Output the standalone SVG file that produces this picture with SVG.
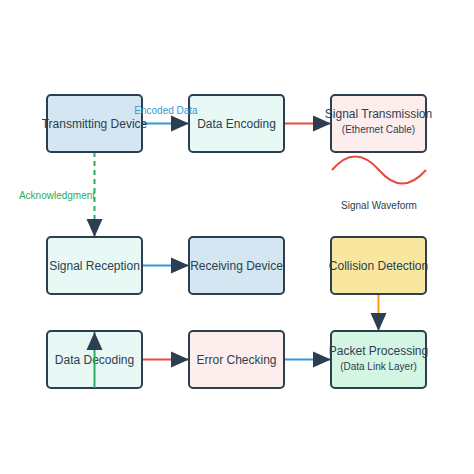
<svg xmlns="http://www.w3.org/2000/svg" width="474" height="474" viewBox="0 0 474 474">
<style>
.box{stroke:#2c3e50;stroke-width:2}
.t{font-family:"Liberation Sans",Arial,sans-serif;font-size:12px;fill:#2c3e50;text-anchor:middle;dominant-baseline:central}
.s{font-family:"Liberation Sans",Arial,sans-serif;font-size:10px;fill:#2c3e50;text-anchor:middle;dominant-baseline:central}
.lbl{font-family:"Liberation Sans",Arial,sans-serif;font-size:10px;text-anchor:middle;dominant-baseline:central}
.c{fill:none;stroke-width:2}
</style>
<defs>
<marker id="ah" markerUnits="userSpaceOnUse" markerWidth="18" markerHeight="18" viewBox="0 0 18 18" refX="18" refY="9" orient="auto">
<path d="M0,1 L18,9 L0,17 Z" fill="#2c3e50"/>
</marker>
</defs>
<rect width="474" height="474" fill="#ffffff"/>
<g id="connectors">
<line class="c" x1="142" y1="123.5" x2="189" y2="123.5" stroke="#3498db" marker-end="url(#ah)"/>
<line class="c" x1="284" y1="123.5" x2="331" y2="123.5" stroke="#e74c3c" marker-end="url(#ah)"/>
<line class="c" x1="94.5" y1="152" x2="94.5" y2="237" stroke="#27ae60" stroke-dasharray="5,4" marker-end="url(#ah)"/>
<line class="c" x1="142" y1="265.5" x2="189" y2="265.5" stroke="#3498db" marker-end="url(#ah)"/>
<line class="c" x1="378.5" y1="294" x2="378.5" y2="331" stroke="#f39c12" marker-end="url(#ah)"/>
<line class="c" x1="142" y1="359.5" x2="189" y2="359.5" stroke="#e74c3c" marker-end="url(#ah)"/>
<line class="c" x1="284" y1="359.5" x2="331" y2="359.5" stroke="#3498db" marker-end="url(#ah)"/>
</g>
<g id="transmitting-device"><rect class="box" x="47" y="95" width="95" height="57" rx="4" fill="#d4e6f1"/><text class="t" x="94.5" y="124">Transmitting Device</text></g>
<g id="data-encoding"><rect class="box" x="189" y="95" width="95" height="57" rx="4" fill="#e8f8f5"/><text class="t" x="236.5" y="124">Data Encoding</text></g>
<g id="signal-transmission"><rect class="box" x="331" y="95" width="95" height="57" rx="4" fill="#fdedec"/><text class="t" x="378.5" y="114">Signal Transmission</text><text class="s" x="378.5" y="129">(Ethernet Cable)</text></g>
<g id="signal-waveform"><path d="M332,170 Q355,143 379,170 Q402,197 426,170" fill="none" stroke="#e74c3c" stroke-width="2"/><text class="lbl" x="379" y="205" fill="#2c3e50">Signal Waveform</text></g>
<g id="signal-reception"><rect class="box" x="47" y="237" width="95" height="57" rx="4" fill="#e8f8f5"/><text class="t" x="94.5" y="266">Signal Reception</text></g>
<g id="receiving-device"><rect class="box" x="189" y="237" width="95" height="57" rx="4" fill="#d4e6f1"/><text class="t" x="236.5" y="266">Receiving Device</text></g>
<g id="collision-detection"><rect class="box" x="331" y="237" width="95" height="57" rx="4" fill="#f9e79f"/><text class="t" x="378.5" y="266">Collision Detection</text></g>
<g id="data-decoding"><rect class="box" x="47" y="331" width="95" height="57" rx="4" fill="#e8f8f5"/><text class="t" x="94.5" y="360">Data Decoding</text></g>
<g id="error-checking"><rect class="box" x="189" y="331" width="95" height="57" rx="4" fill="#fdedec"/><text class="t" x="236.5" y="360">Error Checking</text></g>
<g id="packet-processing"><rect class="box" x="331" y="331" width="95" height="57" rx="4" fill="#d5f5e3"/><text class="t" x="378.5" y="351">Packet Processing</text><text class="s" x="378.5" y="366">(Data Link Layer)</text></g>
<g id="connectors-overlay"><line class="c" x1="94.5" y1="388" x2="94.5" y2="332" stroke="#27ae60" marker-end="url(#ah)"/></g>
<g id="connector-labels">
<text class="lbl" x="166" y="110" fill="#3498db">Encoded Data</text>
<text class="lbl" x="57" y="195" fill="#27ae60">Acknowledgment</text>
</g>
</svg>
